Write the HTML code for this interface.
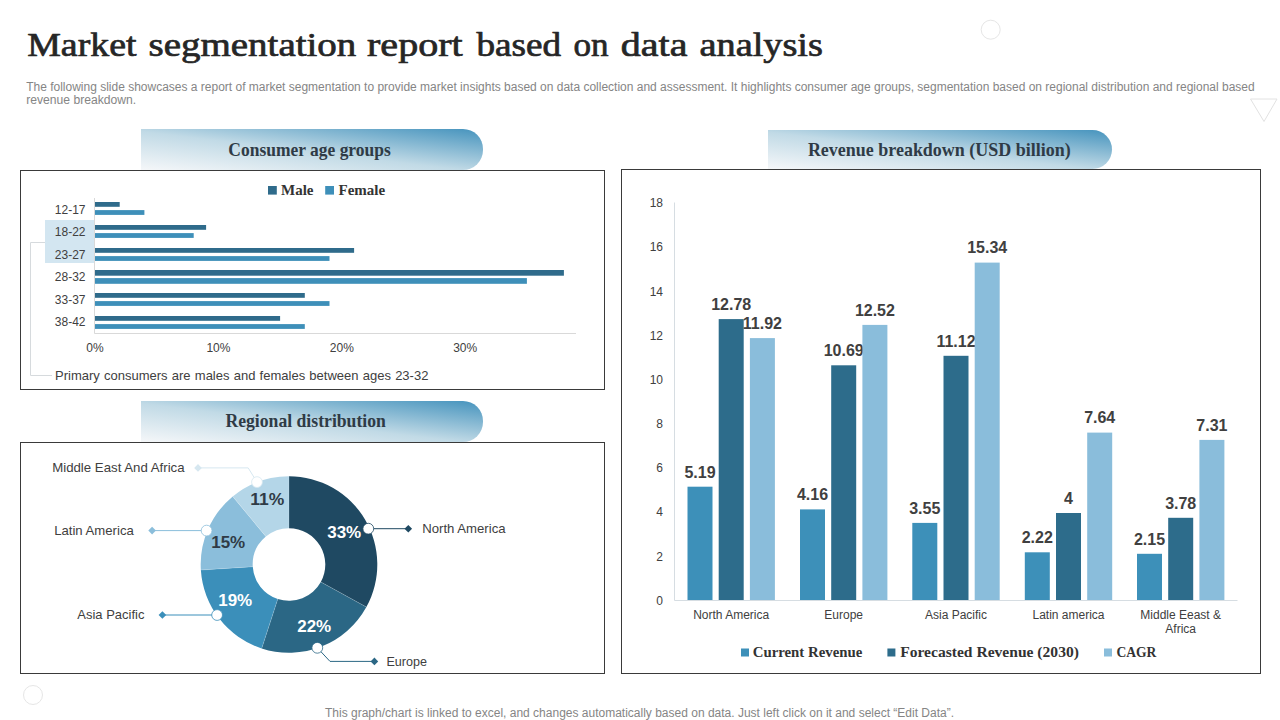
<!DOCTYPE html>
<html>
<head>
<meta charset="utf-8">
<title>Market segmentation report based on data analysis</title>
<style>
*{box-sizing:border-box;margin:0;padding:0}
html,body{width:1280px;height:720px;overflow:hidden;background:#fff}
body{position:relative;font-family:"Liberation Sans",sans-serif;color:#404040}
.box{position:absolute;border:1px solid #3a3a3a;background:#fff}
.pill{position:absolute;border-radius:0 20px 20px 0;background:linear-gradient(to top right,#f5f7f9 0%,#c1dae6 47%,#4593bd 100%)}
svg{position:absolute;left:0;top:0}
svg text{font-family:"Liberation Sans",sans-serif;white-space:pre}
svg .tt text{font-family:"Liberation Serif",serif;font-weight:normal}
svg .ser,svg .ser text{font-family:"Liberation Serif",serif;font-weight:bold}
</style>
</head>
<body>
<div class="pill" style="left:141px;top:129px;width:342px;height:41px"></div>
<div class="pill" style="left:768px;top:130px;width:344px;height:39px"></div>
<div class="pill" style="left:141px;top:401px;width:342px;height:41px"></div>
<div class="box" style="left:20px;top:170px;width:585px;height:220px"></div>
<div class="box" style="left:20px;top:442px;width:585px;height:232px"></div>
<div class="box" style="left:621px;top:169px;width:640px;height:505px"></div>
<svg width="1280" height="720" viewBox="0 0 1280 720">
<!-- title -->
<g class="tt" font-size="33.5" fill="#262626" stroke="#262626" stroke-width="0.7" stroke-linejoin="round">
<text x="27.2" y="56.3" textLength="109.3" lengthAdjust="spacingAndGlyphs">Market</text>
<text x="148.6" y="56.3" textLength="207.7" lengthAdjust="spacingAndGlyphs">segmentation</text>
<text x="367" y="56.3" textLength="95.7" lengthAdjust="spacingAndGlyphs">report</text>
<text x="476.4" y="56.3" textLength="84.6" lengthAdjust="spacingAndGlyphs">based</text>
<text x="573.5" y="56.3" textLength="35.1" lengthAdjust="spacingAndGlyphs">on</text>
<text x="620.8" y="56.3" textLength="66.6" lengthAdjust="spacingAndGlyphs">data</text>
<text x="699.5" y="56.3" textLength="123.4" lengthAdjust="spacingAndGlyphs">analysis</text>
</g>
<text x="26.2" y="90.5" font-size="12" fill="#858585" textLength="1228.5" lengthAdjust="spacingAndGlyphs">The following slide showcases a report of market segmentation to provide market insights based on data collection and assessment. It highlights consumer age groups, segmentation based on regional distribution and regional based</text>
<text x="26.2" y="104" font-size="12" fill="#858585" textLength="110" lengthAdjust="spacingAndGlyphs">revenue breakdown.</text>
<text x="325" y="717" font-size="12" fill="#858585" textLength="629" lengthAdjust="spacingAndGlyphs">This graph/chart is linked to excel, and changes automatically based on data. Just left click on it and select “Edit Data”.</text>
<text x="228.3" y="156.4" font-size="19" fill="#2f3b46" class="ser" textLength="162.5" lengthAdjust="spacingAndGlyphs">Consumer age groups</text>
<text x="807.9" y="156.4" font-size="19" fill="#2f3b46" class="ser" textLength="262.8" lengthAdjust="spacingAndGlyphs">Revenue breakdown (USD billion)</text>
<text x="225.4" y="427.3" font-size="19" fill="#2f3b46" class="ser" textLength="160.5" lengthAdjust="spacingAndGlyphs">Regional distribution</text>
<circle cx="990.7" cy="29.7" r="9.5" fill="none" stroke="#e6e6e6" stroke-width="1"/>
<circle cx="33" cy="695" r="9.5" fill="none" stroke="#e6e6e6" stroke-width="1"/>
<path d="M1250.5 99 L1277 99 L1264 121.5 Z" fill="none" stroke="#e2e2e2" stroke-width="1"/>
<!-- age groups -->
<rect x="45" y="220" width="50" height="43" fill="#d3e6f1"/>
<path d="M45 242.5 H30.5 V375.5 H52" fill="none" stroke="#d6dadd" stroke-width="1"/>
<path d="M94.5 198 V333.5 H576" fill="none" stroke="#d9d9d9" stroke-width="1"/>
<rect x="95" y="202" width="24.7" height="4.8" fill="#2f6b8b"/>
<rect x="95" y="210.1" width="49.4" height="4.8" fill="#3e8fb9"/>
<text x="85.5" y="213.5" font-size="12" fill="#404040" text-anchor="end">12-17</text>
<rect x="95" y="225" width="111.1" height="4.8" fill="#2f6b8b"/>
<rect x="95" y="233.1" width="98.7" height="4.8" fill="#3e8fb9"/>
<text x="85.5" y="236" font-size="12" fill="#404040" text-anchor="end">18-22</text>
<rect x="95" y="248" width="259.1" height="4.8" fill="#2f6b8b"/>
<rect x="95" y="256.1" width="234.5" height="4.8" fill="#3e8fb9"/>
<text x="85.5" y="258.5" font-size="12" fill="#404040" text-anchor="end">23-27</text>
<rect x="95" y="270" width="468.9" height="5.7" fill="#2f6b8b"/>
<rect x="95" y="278.1" width="431.9" height="5.7" fill="#3e8fb9"/>
<text x="85.5" y="281" font-size="12" fill="#404040" text-anchor="end">28-32</text>
<rect x="95" y="293" width="209.8" height="4.8" fill="#2f6b8b"/>
<rect x="95" y="301.1" width="234.5" height="4.8" fill="#3e8fb9"/>
<text x="85.5" y="303.5" font-size="12" fill="#404040" text-anchor="end">33-37</text>
<rect x="95" y="316" width="185.1" height="4.8" fill="#2f6b8b"/>
<rect x="95" y="324.1" width="209.8" height="4.8" fill="#3e8fb9"/>
<text x="85.5" y="326" font-size="12" fill="#404040" text-anchor="end">38-42</text>
<text x="95.0" y="352" font-size="12" fill="#404040" text-anchor="middle">0%</text>
<text x="218.4" y="352" font-size="12" fill="#404040" text-anchor="middle">10%</text>
<text x="341.8" y="352" font-size="12" fill="#404040" text-anchor="middle">20%</text>
<text x="465.20000000000005" y="352" font-size="12" fill="#404040" text-anchor="middle">30%</text>
<rect x="268" y="186" width="8.8" height="8.6" fill="#2f6b8b"/>
<text x="281" y="195" font-size="15" fill="#333" class="ser">Male</text>
<rect x="325.2" y="186" width="8.8" height="8.6" fill="#3e8fb9"/>
<text x="338.5" y="195" font-size="15" fill="#333" class="ser">Female</text>
<text x="55" y="380" font-size="13" fill="#404040" word-spacing="0.61">Primary consumers are males and females between ages 23-32</text>
<!-- donut -->
<path d="M289.00 476.20 A88.3 88.3 0 0 1 366.38 607.04 L320.81 581.99 A36.3 36.3 0 0 0 289.00 528.20 Z" fill="#1f4962"/>
<path d="M366.38 607.04 A88.3 88.3 0 0 1 261.71 648.48 L277.78 599.02 A36.3 36.3 0 0 0 320.81 581.99 Z" fill="#2b6785"/>
<path d="M261.71 648.48 A88.3 88.3 0 0 1 200.87 570.04 L252.77 566.78 A36.3 36.3 0 0 0 277.78 599.02 Z" fill="#3b8fba"/>
<path d="M200.87 570.04 A88.3 88.3 0 0 1 232.72 496.46 L265.86 536.53 A36.3 36.3 0 0 0 252.77 566.78 Z" fill="#8bbedb"/>
<path d="M232.72 496.46 A88.3 88.3 0 0 1 289.00 476.20 L289.00 528.20 A36.3 36.3 0 0 0 265.86 536.53 Z" fill="#b4d6e8"/>
<path d="M289.00 476.20 L289.00 528.20" stroke="#ffffff" stroke-opacity="0.18" stroke-width="1"/>
<path d="M366.38 607.04 L320.81 581.99" stroke="#ffffff" stroke-opacity="0.18" stroke-width="1"/>
<path d="M261.71 648.48 L277.78 599.02" stroke="#ffffff" stroke-opacity="0.18" stroke-width="1"/>
<path d="M200.87 570.04 L252.77 566.78" stroke="#ffffff" stroke-opacity="0.18" stroke-width="1"/>
<path d="M232.72 496.46 L265.86 536.53" stroke="#ffffff" stroke-opacity="0.18" stroke-width="1"/>
<path d="M368.3 528.7 H408.3" fill="none" stroke="#1f4962" stroke-width="1"/>
<path d="M404.5 528.7 L408.3 524.9000000000001 L412.1 528.7 L408.3 532.5 Z" fill="#1f4962"/>
<circle cx="368.3" cy="528.7" r="5.4" fill="#fff" stroke="#1f4962" stroke-width="0.8"/>
<path d="M317.3 647.8 L330 661.4 H374.4" fill="none" stroke="#2b6785" stroke-width="1"/>
<path d="M370.59999999999997 661.4 L374.4 657.6 L378.2 661.4 L374.4 665.1999999999999 Z" fill="#2b6785"/>
<circle cx="317.3" cy="647.8" r="5.4" fill="#fff" stroke="#2b6785" stroke-width="0.8"/>
<path d="M217.1 615 H162.4" fill="none" stroke="#3b8fba" stroke-width="1"/>
<path d="M158.6 615 L162.4 611.2 L166.20000000000002 615 L162.4 618.8 Z" fill="#3b8fba"/>
<circle cx="217.1" cy="615" r="5.4" fill="#fff" stroke="#3b8fba" stroke-width="0.8"/>
<path d="M206.6 530.6 H152.1" fill="none" stroke="#8bbedb" stroke-width="1"/>
<path d="M148.29999999999998 530.6 L152.1 526.8000000000001 L155.9 530.6 L152.1 534.4 Z" fill="#8bbedb"/>
<circle cx="206.6" cy="530.6" r="5.4" fill="#fff" stroke="#8bbedb" stroke-width="0.8"/>
<path d="M257 482.1 L248.2 467.9 H198" fill="none" stroke="#d6e7f0" stroke-width="1"/>
<path d="M194.2 467.9 L198 464.09999999999997 L201.8 467.9 L198 471.7 Z" fill="#d6e7f0"/>
<circle cx="257" cy="482.1" r="5.4" fill="#fff" stroke="#d6e7f0" stroke-width="0.8"/>
<text x="327.2" y="537.5" font-size="16" fill="#fff" font-weight="bold" textLength="34" lengthAdjust="spacingAndGlyphs">33%</text>
<text x="297.2" y="631.5" font-size="16" fill="#fff" font-weight="bold" textLength="34" lengthAdjust="spacingAndGlyphs">22%</text>
<text x="218.2" y="605.8" font-size="16" fill="#fff" font-weight="bold" textLength="34" lengthAdjust="spacingAndGlyphs">19%</text>
<text x="211.2" y="547.8" font-size="16" fill="#2f3b46" font-weight="bold" textLength="34" lengthAdjust="spacingAndGlyphs">15%</text>
<text x="250.2" y="504.8" font-size="16" fill="#2f3b46" font-weight="bold" textLength="34" lengthAdjust="spacingAndGlyphs">11%</text>
<text x="422.2" y="532.8" font-size="13" fill="#404040" textLength="83.4" lengthAdjust="spacingAndGlyphs">North America</text>
<text x="386.4" y="665.6" font-size="13" fill="#404040" textLength="40.5" lengthAdjust="spacingAndGlyphs">Europe</text>
<text x="77.3" y="619.3" font-size="13" fill="#404040" textLength="67.1" lengthAdjust="spacingAndGlyphs">Asia Pacific</text>
<text x="54.2" y="534.7" font-size="13" fill="#404040" textLength="79.6" lengthAdjust="spacingAndGlyphs">Latin America</text>
<text x="52.2" y="471.8" font-size="13" fill="#404040" textLength="132.4" lengthAdjust="spacingAndGlyphs">Middle East And Africa</text>
<!-- revenue -->
<rect x="687.5" y="486.7" width="25" height="113.5" fill="#3d90b9"/>
<text x="700.0" y="477.5" font-size="16" fill="#404040" text-anchor="middle" font-weight="bold">5.19</text>
<rect x="718.7" y="319.1" width="25" height="281.1" fill="#2d6c8b"/>
<text x="731.2" y="309.9" font-size="16" fill="#404040" text-anchor="middle" font-weight="bold">12.78</text>
<rect x="749.9" y="338.1" width="25" height="262.1" fill="#8abddb"/>
<text x="762.4" y="328.9" font-size="16" fill="#404040" text-anchor="middle" font-weight="bold">11.92</text>
<rect x="800.0" y="509.4" width="25" height="90.8" fill="#3d90b9"/>
<text x="812.5" y="500.2" font-size="16" fill="#404040" text-anchor="middle" font-weight="bold">4.16</text>
<rect x="831.2" y="365.3" width="25" height="234.9" fill="#2d6c8b"/>
<text x="843.7" y="356.1" font-size="16" fill="#404040" text-anchor="middle" font-weight="bold">10.69</text>
<rect x="862.4" y="324.9" width="25" height="275.3" fill="#8abddb"/>
<text x="874.9" y="315.7" font-size="16" fill="#404040" text-anchor="middle" font-weight="bold">12.52</text>
<rect x="912.3" y="522.9" width="25" height="77.3" fill="#3d90b9"/>
<text x="924.8" y="513.7" font-size="16" fill="#404040" text-anchor="middle" font-weight="bold">3.55</text>
<rect x="943.5" y="355.8" width="25" height="244.4" fill="#2d6c8b"/>
<text x="956.0" y="346.6" font-size="16" fill="#404040" text-anchor="middle" font-weight="bold">11.12</text>
<rect x="974.7" y="262.6" width="25" height="337.6" fill="#8abddb"/>
<text x="987.2" y="253.4" font-size="16" fill="#404040" text-anchor="middle" font-weight="bold">15.34</text>
<rect x="1024.8" y="552.3" width="25" height="47.9" fill="#3d90b9"/>
<text x="1037.3" y="543.1" font-size="16" fill="#404040" text-anchor="middle" font-weight="bold">2.22</text>
<rect x="1056.0" y="513.0" width="25" height="87.2" fill="#2d6c8b"/>
<text x="1068.5" y="503.8" font-size="16" fill="#404040" text-anchor="middle" font-weight="bold">4</text>
<rect x="1087.2" y="432.6" width="25" height="167.6" fill="#8abddb"/>
<text x="1099.7" y="423.4" font-size="16" fill="#404040" text-anchor="middle" font-weight="bold">7.64</text>
<rect x="1137.0" y="553.8" width="25" height="46.4" fill="#3d90b9"/>
<text x="1149.5" y="544.6" font-size="16" fill="#404040" text-anchor="middle" font-weight="bold">2.15</text>
<rect x="1168.2" y="517.8" width="25" height="82.4" fill="#2d6c8b"/>
<text x="1180.7" y="508.6" font-size="16" fill="#404040" text-anchor="middle" font-weight="bold">3.78</text>
<rect x="1199.4" y="439.9" width="25" height="160.3" fill="#8abddb"/>
<text x="1211.9" y="430.7" font-size="16" fill="#404040" text-anchor="middle" font-weight="bold">7.31</text>
<path d="M674.5 202.5 V600.5 H1237.5" fill="none" stroke="#d6dde2" stroke-width="1"/>
<text x="663" y="604.7" font-size="12" fill="#404040" text-anchor="end">0</text>
<text x="663" y="560.5" font-size="12" fill="#404040" text-anchor="end">2</text>
<text x="663" y="516.4" font-size="12" fill="#404040" text-anchor="end">4</text>
<text x="663" y="472.2" font-size="12" fill="#404040" text-anchor="end">6</text>
<text x="663" y="428.1" font-size="12" fill="#404040" text-anchor="end">8</text>
<text x="663" y="383.9" font-size="12" fill="#404040" text-anchor="end">10</text>
<text x="663" y="339.7" font-size="12" fill="#404040" text-anchor="end">12</text>
<text x="663" y="295.6" font-size="12" fill="#404040" text-anchor="end">14</text>
<text x="663" y="251.4" font-size="12" fill="#404040" text-anchor="end">16</text>
<text x="663" y="207.3" font-size="12" fill="#404040" text-anchor="end">18</text>
<text x="731.2" y="619" font-size="12" fill="#404040" text-anchor="middle">North America</text>
<text x="843.7" y="619" font-size="12" fill="#404040" text-anchor="middle">Europe</text>
<text x="956.0" y="619" font-size="12" fill="#404040" text-anchor="middle">Asia Pacific</text>
<text x="1068.5" y="619" font-size="12" fill="#404040" text-anchor="middle">Latin america</text>
<text x="1180.7" y="619" font-size="12" fill="#404040" text-anchor="middle">Middle Eeast &amp;</text>
<text x="1180.7" y="633" font-size="12" fill="#404040" text-anchor="middle">Africa</text>
<rect x="741" y="648.5" width="8" height="8" fill="#3d90b9"/>
<text x="752.7" y="657" font-size="15" fill="#333" class="ser" textLength="109.6" lengthAdjust="spacingAndGlyphs">Current Revenue</text>
<rect x="887.4" y="648.5" width="8" height="8" fill="#2d6c8b"/>
<text x="900.2" y="657" font-size="15" fill="#333" class="ser" textLength="178.7" lengthAdjust="spacingAndGlyphs">Forecasted Revenue (2030)</text>
<rect x="1104" y="648.5" width="8" height="8" fill="#8abddb"/>
<text x="1116.4" y="657" font-size="15" fill="#333" class="ser" textLength="40" lengthAdjust="spacingAndGlyphs">CAGR</text>
</svg>
</body>
</html>
